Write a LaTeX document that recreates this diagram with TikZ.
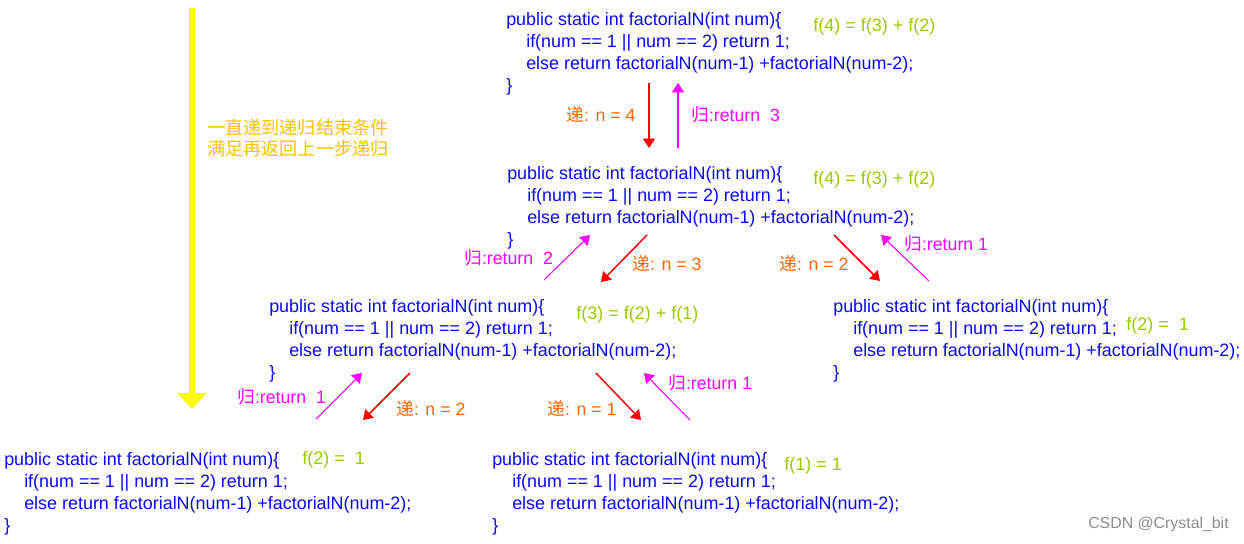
\documentclass[tikz,border=0pt]{standalone}
\usepackage{fontspec}
\setmainfont{Liberation Sans}
\newfontfamily\cjk{Noto Sans CJK SC}
\usetikzlibrary{arrows.meta}
\definecolor{codeblue}{RGB}{10,10,240}
\definecolor{fgreen}{RGB}{153,204,0}
\definecolor{dorange}{RGB}{255,102,0}
\definecolor{gmag}{RGB}{255,0,255}
\definecolor{ygold}{RGB}{255,192,0}
\definecolor{ayellow}{RGB}{255,255,0}
\tikzset{
  code/.style={anchor=base west, inner sep=0pt, text=codeblue, font=\fontsize{13.45}{15}\selectfont},
  flab/.style={anchor=west, inner sep=0pt, text=fgreen, font=\fontsize{13.5}{15}\selectfont},
  dlab/.style={anchor=west, inner sep=0pt, text=dorange, font=\fontsize{13.3}{15}\selectfont},
  glab/.style={anchor=west, inner sep=0pt, text=gmag, font=\fontsize{13.3}{15}\selectfont},
  darr/.style={draw=red, line width=1.1pt, -{Triangle[width=9pt,length=7pt]}},
  garr/.style={draw=gmag, line width=0.8pt, -{Triangle[width=9pt,length=7pt]}},
}
\newcommand\codeblk[3]{%
  \node[code] (#1) at (#2,#3) {public static int factorialN(int num)\{};
  \node[code] (#1b) at ({#2+20},{#3+22}) {if(num == 1 || num == 2) return 1;};
  \node[code] (#1c) at ({#2+20},{#3+44}) {else return factorialN(num-1) +factorialN(num-2);};
  \node[code] (#1d) at (#2,{#3+66}) {\}};
}
\begin{document}
\begin{tikzpicture}[x=0.75pt,y=-0.75pt]
\useasboundingbox (0,0) rectangle (1244,543);
\fill[white] (0,0) rectangle (1244,543);

% yellow arrow
\coordinate (ys) at (192,8);
\coordinate (ye) at (192,409);
\draw[draw=ayellow, line width=5.2pt, -{Triangle[width=21pt,length=12pt]}] (ys) -- (ye);
\node[anchor=west, inner sep=0pt, text=ygold, font=\cjk\fontsize{13.6}{15.9}\selectfont, align=left] (note) at (207,138)
  {一直递到递归结束条件\\满足再返回上一步递归};

% code blocks
\codeblk{c1}{506}{25}
\codeblk{c2}{507}{179}
\codeblk{c3}{269}{312}
\codeblk{c4}{833}{312}
\codeblk{c5}{4}{465}
\codeblk{c6}{492}{465}

% green labels
\node[flab] (f1) at (813,27) {f(4) = f(3) + f(2)};
\node[flab] (f2) at (813,180) {f(4) = f(3) + f(2)};
\node[flab] (f3) at (576,315) {f(3) = f(2) + f(1)};
\node[flab] (f4) at (1126,326) {f(2) =\ \ 1};
\node[flab] (f5) at (302,460) {f(2) =\ \ 1};
\node[flab] (f6) at (784,466) {f(1) = 1};

% orange labels
\node[dlab] (d1) at (566,115) {{\cjk 递}: n = 4};
\node[dlab] (d2) at (632,264) {{\cjk 递}: n = 3};
\node[dlab] (d3) at (779,264) {{\cjk 递}: n = 2};
\node[dlab] (d4) at (396,409) {{\cjk 递}: n = 2};
\node[dlab] (d5) at (547,409) {{\cjk 递}: n = 1};

% magenta labels
\node[glab] (g1) at (691,115) {{\cjk 归}:return\ \ 3};
\node[glab] (g2) at (464,258) {{\cjk 归}:return\ \ 2};
\node[glab] (g3) at (904,244) {{\cjk 归}:return 1};
\node[glab] (g4) at (237,397) {{\cjk 归}:return\ \ 1};
\node[glab] (g5) at (668,383) {{\cjk 归}:return 1};

% arrows between levels
\coordinate (a1s) at (649,83);  \coordinate (a1e) at (649,148);
\coordinate (b1s) at (678,148); \coordinate (b1e) at (678,83);
\draw[darr] (a1s) -- (a1e);
\draw[garr] (b1s) -- (b1e);

\coordinate (a2s) at (647,235); \coordinate (a2e) at (601,282);
\coordinate (b2s) at (544,280); \coordinate (b2e) at (590,235);
\draw[darr] (a2s) -- (a2e);
\draw[garr] (b2s) -- (b2e);

\coordinate (a3s) at (834,235); \coordinate (a3e) at (880,281);
\coordinate (b3s) at (929,281); \coordinate (b3e) at (881,235);
\draw[darr] (a3s) -- (a3e);
\draw[garr] (b3s) -- (b3e);

\coordinate (a4s) at (410,373); \coordinate (a4e) at (363,420);
\coordinate (b4s) at (316,419); \coordinate (b4e) at (362,373);
\draw[darr] (a4s) -- (a4e);
\draw[garr] (b4s) -- (b4e);

\coordinate (a5s) at (596,373); \coordinate (a5e) at (641,420);
\coordinate (b5s) at (690,420); \coordinate (b5e) at (644,373);
\draw[darr] (a5s) -- (a5e);
\draw[garr] (b5s) -- (b5e);

% watermark
\node[anchor=west, inner sep=0pt, text=black!45, font=\fontsize{11.9}{13}\selectfont] (wm) at (1088,524) {CSDN @Crystal\_bit};
\end{tikzpicture}
\end{document}
